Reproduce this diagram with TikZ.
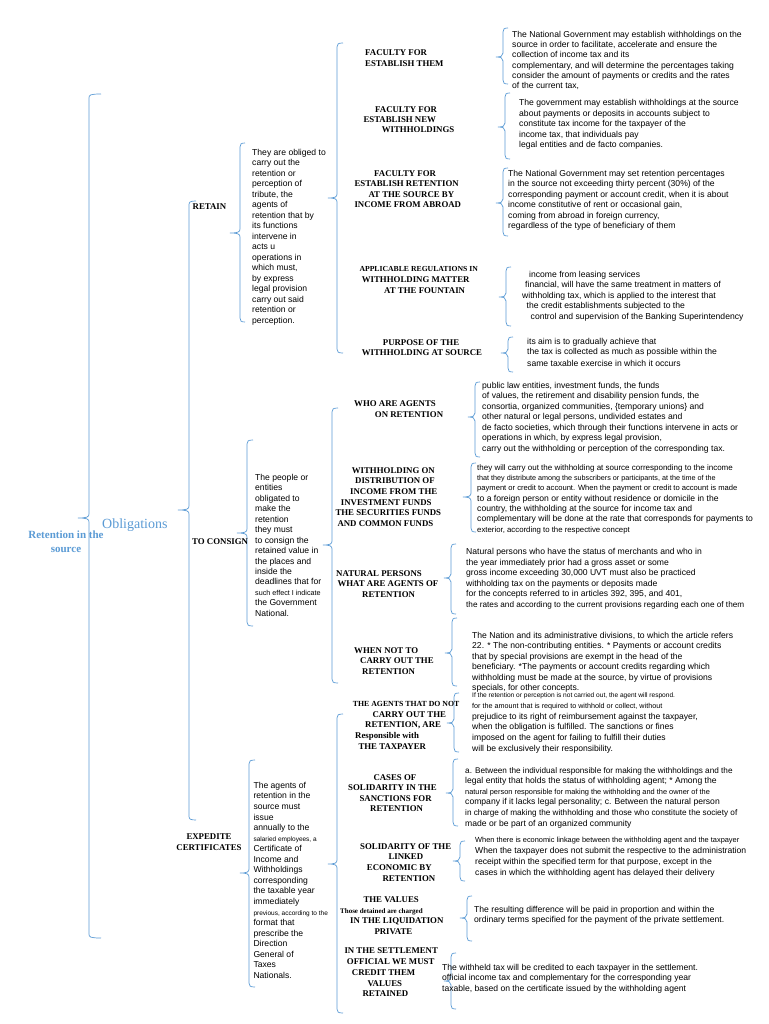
\documentclass[tikz,border=0pt]{standalone}
\usepackage{fontspec}
\setmainfont{Liberation Serif}
\newfontfamily\sansf{Liberation Sans}
\definecolor{bl}{RGB}{91,155,213}
\newcommand\mybrace[6]{\draw[brc] (#1+#5,#2) .. controls (#1+1,#2) and (#1,#2+1) .. (#1,#2+4) -- (#1,#4-4) .. controls (#1,#4-1) and (#1-2,#4) .. (#1-#6,#4) .. controls (#1-2,#4) and (#1,#4+1) .. (#1,#4+4) -- (#1,#3-4) .. controls (#1,#3-1) and (#1+1,#3) .. (#1+#5,#3);}
\newcommand\sz[2]{{\fontsize{#1}{10}\selectfont #2}}
\tikzset{
 brc/.style={draw=bl, line width=0.7pt},
 body/.style={font=\sansf\fontsize{8.6}{#1}\selectfont, align=left, inner sep=0pt, anchor=north west},
 body/.default=10.5,
 lab/.style={font=\bfseries\fontsize{8.8}{#1}\selectfont, align=left, inner sep=0pt, anchor=north west},
 lab/.default=10.6,
 ttl/.style={font=\bfseries\fontsize{11}{14}\selectfont, text=bl, align=center, inner sep=0pt},
}
\begin{document}
\begin{tikzpicture}[x=1pt,y=-1pt]
\fill[white] (0,0) rectangle (768,1024);
\useasboundingbox (0,0) rectangle (768,1024);
% braces
\mybrace{89}{94}{938}{518}{12}{11}
\mybrace{189}{201}{820}{510}{7}{11}
\mybrace{240}{143}{322}{233}{5}{10}
\mybrace{337}{43}{353}{198}{6}{9}
\mybrace{247}{440}{626}{533}{6}{10}
\mybrace{332}{408}{683}{545}{6}{9}
\mybrace{249}{760}{987}{873}{6}{9}
\mybrace{337}{714}{1013}{864}{6}{9}
\mybrace{503}{28}{84}{57}{5}{7}
\mybrace{505}{93}{159}{127}{5}{7}
\mybrace{503}{168}{236}{203}{5}{7}
\mybrace{506}{267}{326}{297}{5}{7}
\mybrace{508}{337}{372}{353}{5}{7}
\mybrace{475}{382}{457}{417}{5}{7}
\mybrace{471}{463}{532}{497}{5}{8}
\mybrace{451}{544}{614}{578}{5}{7}
\mybrace{452}{618}{686}{653}{5}{7}
\mybrace{454}{693}{752}{723}{5}{7}
\mybrace{453}{759}{826}{793}{5}{7}
\mybrace{460}{841}{881}{861}{5}{7}
\mybrace{467}{896}{941}{918}{5}{7}
\mybrace{451}{953}{1009}{981}{5}{7}
% titles
\node[ttl] (ret) at (66,542) {Retention in the\\source};
\node[anchor=west, text=bl, font=\fontsize{14}{16}\selectfont, inner sep=0pt] (obl) at (102,525) {Obligations};
\node[lab] (retain) at (192.5,203) {RETAIN};
\node[lab] (consign) at (192,538) {TO CONSIGN};
\node[lab, align=center, anchor=north] (expedite) at (209,834) {EXPEDITE\\CERTIFICATES};
% retain
\node[body] (rtxt) at (252,149) {They are obliged to\\carry out the\\retention or\\perception of\\tribute, the\\agents of\\retention that by\\its functions\\intervene in\\acts u\\operations in\\which must,\\by express\\legal provision\\carry out said\\retention or\\perception.};
\node[lab] (l1) at (365,49.8) {FACULTY FOR\\ESTABLISH THEM};
\node[lab=10.2] (l2) at (363.3,106.4) {\hspace*{11.7pt}FACULTY FOR\\ESTABLISH NEW\\\hspace*{18.4pt}WITHHOLDINGS};
\node[lab=10.5] (l3) at (354.3,170.4) {\hspace*{19.7pt}FACULTY FOR\\ESTABLISH RETENTION\\\hspace*{14pt}AT THE SOURCE BY\\INCOME FROM ABROAD};
\node[lab=10.7] (l4) at (359.3,266.6) {\sz{7.7}{APPLICABLE REGULATIONS IN}\\\hspace*{2.4pt}WITHHOLDING MATTER\\\hspace*{24.7pt}AT THE FOUNTAIN};
\node[lab=10] (l5) at (361.7,339.8) {\hspace*{21pt}PURPOSE OF THE\\WITHHOLDING AT SOURCE};
\node[body=10.2] (f1) at (512,31) {The National Government may establish withholdings on the\\source in order to facilitate, accelerate and ensure the\\collection of income tax and its\\complementary, and will determine the percentages taking\\consider the amount of payments or credits and the rates\\of the current tax,};
\node[body=10.6] (f2) at (519,99) {The government may establish withholdings at the source\\about payments or deposits in accounts subject to\\constitute tax income for the taxpayer of the\\income tax, that individuals pay\\legal entities and de facto companies.};
\node[body=10.5] (f3) at (508,170) {The National Government may set retention percentages\\in the source not exceeding thirty percent (30\%) of the\\corresponding payment or account credit, when it is about\\income constitutive of rent or occasional gain,\\coming from abroad in foreign currency,\\regardless of the type of beneficiary of them};
\node[body=10.5] (f4) at (522,271) {\hspace*{7pt}income from leasing services\\\hspace*{3pt}financial, will have the same treatment in matters of\\withholding tax, which is applied to the interest that\\\hspace*{4.5pt}the credit establishments subjected to the\\\hspace*{8.5pt}control and supervision of the Banking Superintendency};
\node[body=10] (f5) at (527,338) {its aim is to gradually achieve that\\the tax is collected as much as possible within the\\[2pt]same taxable exercise in which it occurs};
% consign
\node[body=10.45] (ctxt) at (255,474) {The people or\\entities\\obligated to\\make the\\retention\\they must\\to consign the\\retained value in\\the places and\\inside the\\deadlines that for\\\sz{7.2}{such effect I indicate}\\the Government\\National.};
\node[lab=11] (l6) at (354,400.4) {WHO ARE AGENTS\\\hspace*{20.7pt}ON RETENTION};
\node[lab=10.65] (l7) at (335.3,467.1) {\hspace*{16.4pt}WITHHOLDING ON\\\hspace*{19.7pt}DISTRIBUTION OF\\\hspace*{14.7pt}INCOME FROM THE\\\hspace*{5.4pt}INVESTMENT FUNDS\\THE SECURITIES FUNDS\\\hspace*{2pt}AND COMMON FUNDS};
\node[lab=10.5] (l8) at (336,570.4) {NATURAL PERSONS\\\hspace*{1.3pt}WHAT ARE AGENTS OF\\\hspace*{26pt}RETENTION};
\node[lab=10.5] (l9) at (354,647.1) {WHEN NOT TO\\\hspace*{6pt}CARRY OUT THE\\\hspace*{8pt}RETENTION};
\node[body=10.5] (w1) at (482,382) {public law entities, investment funds, the funds\\of values, the retirement and disability pension funds, the\\consortia, organized communities, \{temporary unions\} and\\other natural or legal persons, undivided estates and\\de facto societies, which through their functions intervene in acts or\\operations in which, by express legal provision,\\carry out the withholding or perception of the corresponding tax.};
\node[body=10.35] (w2) at (477,464) {\sz{8}{they will carry out the withholding at source corresponding to the income}\\\sz{7.2}{that they distribute among the subscribers or participants, at the time of the}\\\sz{7.6}{payment or credit to account. When the payment or credit to account is made}\\to a foreign person or entity without residence or domicile in the\\country, the withholding at the source for income tax and\\complementary will be done at the rate that corresponds for payments to\\\sz{7.8}{exterior, according to the respective concept}};
\node[body=10.6] (n1) at (466,548) {Natural persons who have the status of merchants and who in\\the year immediately prior had a gross asset or some\\gross income exceeding 30,000 UVT must also be practiced\\withholding tax on the payments or deposits made\\for the concepts referred to in articles 392, 395, and 401,\\\sz{8.2}{the rates and according to the current provisions regarding each one of them}};
\node[body=10.4] (wn) at (472,632) {The Nation and its administrative divisions, to which the article refers\\22. * The non-contributing entities. * Payments or account credits\\that by special provisions are exempt in the head of the\\beneficiary. *The payments or account credits regarding which\\withholding must be made at the source, by virtue of provisions\\specials, for other concepts.};
% expedite
\node[body=10.55] (etxt) at (253.3,782) {The agents of\\retention in the\\source must\\issue\\annually to the\\\sz{6.5}{salaried employees, a}\\Certificate of\\Income and\\Withholdings\\corresponding\\the taxable year\\immediately\\\sz{6.5}{previous, according to the}\\format that\\prescribe the\\Direction\\General of\\Taxes\\Nationals.};
\node[lab=10.75] (l10) at (352.7,701) {\sz{7.8}{THE AGENTS THAT DO NOT}\\\hspace*{19.6pt}CARRY OUT THE\\\hspace*{12.3pt}RETENTION, ARE\\\hspace*{2.3pt}Responsible with\\\hspace*{5.6pt}THE TAXPAYER};
\node[lab=10.5] (l11) at (348,774.4) {\hspace*{25.3pt}CASES OF\\SOLIDARITY IN THE\\\hspace*{11.3pt}SANCTIONS FOR\\\hspace*{22pt}RETENTION};
\node[lab=10.75] (l12) at (360,843.1) {SOLIDARITY OF THE\\\hspace*{28.3pt}LINKED\\\hspace*{6.7pt}ECONOMIC BY\\\hspace*{22.3pt}RETENTION};
\node[lab=10.6] (l13) at (340,896.4) {\hspace*{23.3pt}THE VALUES\\\sz{7}{Those detained are charged}\\\hspace*{10pt}IN THE LIQUIDATION\\\hspace*{34.3pt}PRIVATE};
\node[lab=10.75] (l14) at (344.3,947.8) {IN THE SETTLEMENT\\\hspace*{2.4pt}OFFICIAL WE MUST\\\hspace*{7.4pt}CREDIT THEM\\\hspace*{23pt}VALUES\\\hspace*{18pt}RETAINED};
\node[body=10.8] (ag) at (472,692.5) {\sz{6.6}{If the retention or perception is not carried out, the agent will respond.}\\\sz{7.2}{for the amount that is required to withhold or collect, without}\\prejudice to its right of reimbursement against the taxpayer,\\when the obligation is fulfilled. The sanctions or fines\\imposed on the agent for failing to fulfill their duties\\will be exclusively their responsibility.};
\node[body=10.6] (cs) at (465,767) {\sz{8.2}{a. Between the individual responsible for making the withholdings and the}\\legal entity that holds the status of withholding agent; * Among the\\\sz{7.4}{natural person responsible for making the withholding and the owner of the}\\company if it lacks legal personality; c. Between the natural person\\\sz{8.2}{in charge of making the withholding and those who constitute the society of}\\made or be part of an organized community};
\node[body=11] (sl) at (475,836.5) {\sz{7.4}{When there is economic linkage between the withholding agent and the taxpayer}\\When the taxpayer does not submit the respective to the administration\\receipt within the specified term for that purpose, except in the\\cases in which the withholding agent has delayed their delivery};
\node[body=10.2] (vl) at (474,906) {The resulting difference will be paid in proportion and within the\\ordinary terms specified for the payment of the private settlement.};
\node[body=10.3] (st) at (442,964) {The withheld tax will be credited to each taxpayer in the settlement.\\official income tax and complementary for the corresponding year\\taxable, based on the certificate issued by the withholding agent};
\end{tikzpicture}
\end{document}
